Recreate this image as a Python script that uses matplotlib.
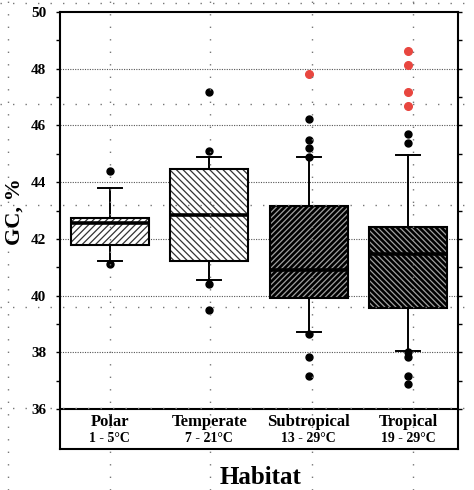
import matplotlib
matplotlib.use('Agg')
import matplotlib.pyplot as plt
from matplotlib.patches import PathPatch
from matplotlib.lines import Line2D

# data (GC %)
habitats = ['Polar', 'Temperate', 'Subtropical', 'Tropical']
temps = ['1 - 5°C', '7 - 21°C', '13 - 29°C', '19 - 29°C']
q1 = [41.78, 41.23, 39.90, 39.55]
med = [42.56, 42.84, 40.90, 41.46]
q3 = [42.74, 44.46, 43.17, 42.43]
whis_lo = [41.23, 40.55, 38.71, 38.06]
whis_hi = [43.79, 44.90, 44.88, 44.96]
out_black = [
    [44.40, 41.10],
    [47.17, 45.10, 40.40, 39.49],
    [46.22, 45.49, 45.19, 44.90, 38.63, 37.85, 37.17],
    [45.70, 45.39, 38.00, 37.85, 37.17, 36.87],
]
out_red = [[], [], [47.81], [48.62, 48.12, 47.19, 46.69]]

plt.rcParams['font.family'] = ['Liberation Serif', 'DejaVu Serif']
plt.rcParams['font.weight'] = 'bold'
plt.rcParams['hatch.linewidth'] = 0.9

fig = plt.figure(figsize=(4.74, 4.90), dpi=100)
ax = fig.add_axes([60 / 474, 1 - 449 / 490, 398 / 474, 437 / 490])

pos = [0.5, 1.5, 2.5, 3.5]
stats = []
for i in range(len(habitats)):
    stats.append({'q1': q1[i], 'med': med[i], 'q3': q3[i],
                  'whislo': whis_lo[i], 'whishi': whis_hi[i], 'fliers': []})

bp = ax.bxp(stats, positions=pos, widths=0.78, capwidths=0.24,
            patch_artist=True, showfliers=False,
            medianprops=dict(color='black', lw=2.6),
            whiskerprops=dict(color='black', lw=1.4),
            capprops=dict(color='black', lw=1.4))

styles = [('white', '#333333', '/' * 5), ('white', '#333333', '\\' * 5),
          ('black', '#a0a0a0', '/' * 6), ('black', '#a0a0a0', '\\' * 6)]
for b, (fc, hc, h) in zip(bp['boxes'], styles):
    b.set_facecolor(fc)
    b.set_edgecolor(hc)
    b.set_hatch(h)
    b.set_linewidth(0)
    b.set_zorder(2)
    ax.add_patch(PathPatch(b.get_path(), fill=False, edgecolor='black',
                           lw=1.5, zorder=2.5))
for m in bp['medians']:
    m.set_zorder(3)

for i, p in enumerate(pos):
    ax.plot([p] * len(out_black[i]), out_black[i], 'o', color='black',
            ms=5, zorder=4)
    if out_red[i]:
        ax.plot([p] * len(out_red[i]), out_red[i], 'o', color='#e8463f',
                ms=5.5, zorder=4)

ax.set_xlim(0, 4)
ax.set_ylim(34.59, 50)
ax.axhline(36, color='black', lw=1.5, zorder=3)
for g in range(38, 50, 2):
    ax.axhline(g, color='#555555', lw=0.8, ls=(0, (1, 1.2)), zorder=1)

ax.set_yticks(range(36, 51, 2))
ax.set_yticks(range(37, 50, 2), minor=True)
ax.tick_params(axis='y', which='both', direction='out', length=3,
               width=1, right=True, labelsize=11, pad=7)
ax.set_xticks([])
for s in ax.spines.values():
    s.set_linewidth(1.5)

for i, p in enumerate(pos):
    ax.text(p, 35.55, habitats[i], ha='center', va='center', fontsize=12)
    ax.text(p, 34.97, temps[i], ha='center', va='center', fontsize=10)

fig.text(15 / 474, 1 - 212 / 490, 'GC, %', rotation=90, ha='center',
         va='center', fontsize=16)
fig.text(261 / 474, 1 - 477 / 490, 'Habitat', ha='center', va='center',
         fontsize=18)

# faint page grid behind the printed chart
for xp in [8, 110, 210, 312, 413]:
    fig.add_artist(Line2D([xp / 474, xp / 474], [0, 1], color='#777777',
                          lw=1, ls=(0, (1, 8)), zorder=10))
for yp in [3, 104, 205, 307, 408]:
    fig.add_artist(Line2D([0, 1], [1 - yp / 490, 1 - yp / 490],
                          color='#777777', lw=1, ls=(0, (1, 8)), zorder=10))

fig.savefig('out.png', dpi=100)
